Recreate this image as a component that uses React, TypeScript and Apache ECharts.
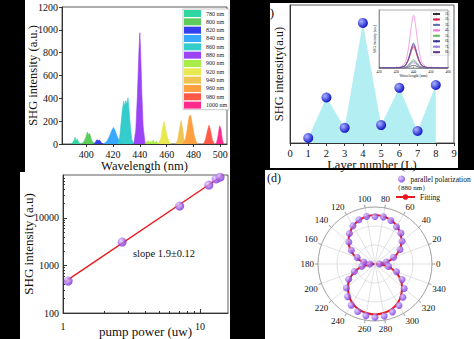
import React, { useEffect, useRef } from "react";
import * as echarts from "echarts";

const FONT = "'Liberation Serif', 'Times New Roman', serif";

// ---------- Panel (a): SHG spectra for different pump wavelengths ----------
const aNames = ["780 nm", "800 nm", "820 nm", "840 nm", "860 nm", "880 nm", "900 nm", "920 nm", "940 nm", "960 nm", "980 nm", "1000 nm"];
const aColors = ["#2fd6a0", "#5ccc5c", "#3440ee", "#36a8ff", "#35cccc", "#9a44f5", "#a8ec48", "#e8e850", "#f0c450", "#ffa040", "#ff5a48", "#ff2a8c"];
const s780 = [[388.5, 0], [390, 12], [391, 30], [391.8, 58], [392.5, 25], [393.3, 45], [394.5, 10], [396, 0]];
const s800 = [[396.5, 0], [398.5, 25], [399.8, 60], [400.8, 105], [401.8, 80], [402.6, 95], [404, 35], [406, 0]];
const s820 = [[405.5, 0], [407, 18], [408, 38], [409, 30], [410, 35], [411.5, 8], [413, 0]];
const s840 = [[413, 0], [415.5, 25], [417.5, 70], [419, 115], [420.3, 145], [421.5, 120], [423, 70], [425, 20], [427, 0]];
const s860 = [[423.5, 0], [425, 60], [426, 180], [427, 300], [428, 375], [428.7, 330], [429.5, 380], [430.3, 350], [431.2, 405], [432, 300], [433, 150], [434, 40], [435.5, 0]];
const s880 = [[435.5, 0], [437, 120], [438.2, 420], [439.3, 800], [440, 975], [440.6, 820], [441.5, 450], [442.5, 150], [444, 0]];
const s900 = [[443.5, 0], [445, 15], [446, 28], [447, 12], [448, 25], [449, 8], [450, 38], [451, 10], [452.5, 22], [454, 0]];
const s920 = [[453.5, 0], [455.5, 40], [456.8, 130], [458, 200], [459, 150], [460.3, 70], [462, 15], [463.5, 0]];
const s940 = [[467, 0], [468.5, 50], [469.8, 150], [470.8, 205], [471.8, 140], [473, 40], [474.5, 0]];
const s960 = [[472, 0], [474, 40], [475.5, 140], [476.8, 240], [477.8, 255], [479, 180], [480.5, 80], [482, 20], [483.5, 0]];
const s980 = [[487.5, 0], [489, 40], [490.5, 120], [491.5, 165], [492.5, 130], [494, 40], [495.5, 0]];
const s1000 = [[497, 0], [498.2, 60], [499.5, 160], [500.5, 130], [501.5, 40], [502.5, 0]];
const aSpectra = [s780, s800, s820, s840, s860, s880, s900, s920, s940, s960, s980, s1000];
const aTicks = [400, 420, 440, 460, 480, 500];

// ---------- Panel (b): SHG vs layer number ----------
const layers = [1, 2, 3, 4, 5, 6, 7, 8];
const layerShg = [3.6, 33, 11, 87, 13, 40, 8.7, 42];
// inset
const insetNames = ["1L", "2L", "3L", "4L", "5L", "6L", "7L", "8L"];
const insetColors = ["#333333", "#e0204a", "#6670b0", "#f27ad6", "#66bb66", "#3a3a9c", "#9a80e0", "#6a3a8a"];
const insetWl = [420, 430, 434, 436, 438, 439, 440, 441, 442, 444, 446, 450, 460];
const in1 = [0, 0, 0.003, 0.01, 0.03, 0.043, 0.05, 0.043, 0.03, 0.01, 0.003, 0, 0];
const in2 = [0, 0.004, 0.024, 0.08, 0.24, 0.34, 0.4, 0.34, 0.24, 0.08, 0.024, 0.004, 0];
const in3 = [0, 0.001, 0.008, 0.026, 0.078, 0.11, 0.13, 0.11, 0.078, 0.026, 0.008, 0.001, 0];
const in4 = [0, 0.01, 0.06, 0.2, 0.6, 0.85, 1.0, 0.85, 0.6, 0.2, 0.06, 0.01, 0];
const in5 = [0, 0.002, 0.01, 0.032, 0.096, 0.136, 0.16, 0.136, 0.096, 0.032, 0.01, 0.002, 0];
const in6 = [0, 0.005, 0.028, 0.094, 0.28, 0.4, 0.47, 0.4, 0.28, 0.094, 0.028, 0.005, 0];
const in7 = [0, 0.001, 0.006, 0.02, 0.06, 0.085, 0.1, 0.085, 0.06, 0.02, 0.006, 0.001, 0];
const in8 = [0, 0.004, 0.026, 0.088, 0.264, 0.374, 0.44, 0.374, 0.264, 0.088, 0.026, 0.004, 0];
const insetCurves = [in1, in2, in3, in4, in5, in6, in7, in8];

// ---------- Panel (c): power dependence ----------
const pumpPower = [1.09, 2.7, 7.1, 11.6, 13.1, 14.0];
const pumpShg = [470, 3100, 17800, 49000, 66000, 72000];
const fitPower = [1.03, 14.7];
const fitShg = [450, 79000];
const cMinorX = [2, 3, 4, 5, 6, 7, 8, 9];
const cMinorY = [200, 300, 400, 500, 600, 700, 800, 900, 2000, 3000, 4000, 5000, 6000, 7000, 8000, 9000, 20000, 30000, 40000, 50000, 60000, 70000];

// ---------- Panel (d): polarization ----------
const polAngles = [0, 10, 20, 30, 40, 50, 60, 70, 80, 90, 100, 110, 120, 130, 140, 150, 160, 170, 180, 190, 200, 210, 220, 230, 240, 250, 260, 270, 280, 290, 300, 310, 320, 330, 340, 350];
const polData = [0.12, 0.3, 0.52, 0.76, 0.93, 1.06, 1.13, 1.22, 1.26, 1.25, 1.27, 1.24, 1.16, 1.05, 0.9, 0.72, 0.5, 0.3, 0.14, 0.35, 0.58, 0.8, 0.98, 1.12, 1.25, 1.33, 1.38, 1.4, 1.39, 1.34, 1.26, 1.14, 1.0, 0.82, 0.6, 0.36];
const fitAngles = [0, 10, 20, 30, 40, 50, 60, 70, 80, 90, 100, 110, 120, 130, 140, 150, 160, 170, 180, 190, 200, 210, 220, 230, 240, 250, 260, 270, 280, 290, 300, 310, 320, 330, 340, 350, 360];
const fitR = [0.03, 0.32, 0.55, 0.74, 0.91, 1.04, 1.15, 1.23, 1.27, 1.29, 1.27, 1.23, 1.15, 1.04, 0.91, 0.74, 0.55, 0.32, 0.03, 0.33, 0.56, 0.76, 0.93, 1.07, 1.19, 1.27, 1.31, 1.33, 1.31, 1.27, 1.19, 1.07, 0.93, 0.76, 0.56, 0.33, 0.03];

function sphere(light: string, dark: string) {
  return new echarts.graphic.RadialGradient(0.35, 0.35, 0.75, [
    { offset: 0, color: light },
    { offset: 1, color: dark },
  ]);
}

const AX = { show: true, lineStyle: { color: "#333", width: 1 } };
const TXT = { fontFamily: FONT, color: "#111" };
const plain = (v: number) => String(Math.round(v));

export default function App() {
  const ref = useRef<HTMLDivElement>(null);
  useEffect(() => {
    if (!ref.current) return;
    const chart = echarts.init(ref.current, null, { renderer: "svg" });
    const gridBox = { show: true, borderColor: "#333", borderWidth: 0.8, backgroundColor: "transparent" };

    const series: any[] = [];
    aSpectra.forEach((s, i) => {
      series.push({
        type: "line", name: aNames[i], xAxisIndex: 0, yAxisIndex: 0, data: s, symbol: "none",
        lineStyle: { color: aColors[i], width: 0.6 }, itemStyle: { color: aColors[i] },
        areaStyle: { color: aColors[i], opacity: 1 }, silent: true,
      });
    });
    series.push({
      type: "line", name: "layers", xAxisIndex: 1, yAxisIndex: 1,
      data: layers.map((l, i) => [l, layerShg[i]]), symbol: "circle", symbolSize: 10,
      itemStyle: { color: sphere("#a8b4ff", "#0000c0") }, lineStyle: { width: 0 },
      areaStyle: { color: "#b2eef2", opacity: 1 }, z: 3,
    });
    insetCurves.forEach((c, i) => {
      series.push({
        type: "line", name: insetNames[i], xAxisIndex: 2, yAxisIndex: 2,
        data: insetWl.map((w, j) => [w, c[j]]), symbol: "none", smooth: true,
        lineStyle: { color: insetColors[i], width: 0.7 }, itemStyle: { color: insetColors[i] }, z: 5,
      });
    });
    series.push({
      type: "line", name: "fit", xAxisIndex: 3, yAxisIndex: 3,
      data: fitPower.map((p, i) => [p, fitShg[i]]), symbol: "none",
      lineStyle: { color: "#e8191f", width: 1.4 },
    });
    series.push({
      type: "scatter", name: "power", xAxisIndex: 3, yAxisIndex: 3,
      data: pumpPower.map((p, i) => [p, pumpShg[i]]), symbolSize: 9,
      itemStyle: { color: sphere("#e6d0ff", "#6a10d8") }, z: 4,
    });
    series.push({
      type: "line", name: "Fitting", coordinateSystem: "polar",
      data: fitAngles.map((a, i) => [fitR[i], a]), smooth: 0.35, symbol: "none",
      lineStyle: { color: "#e8191f", width: 2 }, itemStyle: { color: "#e8191f" },
    });
    series.push({
      type: "scatter", name: "parallel polarization", coordinateSystem: "polar",
      data: polAngles.map((a, i) => [polData[i], a]), symbolSize: 7,
      itemStyle: { color: sphere("#d8c4ff", "#6a1ee0") }, z: 4,
    });

    const option: any = {
      animation: false,
      backgroundColor: "#000",
      textStyle: { fontFamily: FONT },
      graphic: {
        elements: [
          { type: "rect", z: -10, shape: { x: 25, y: 0, width: 205, height: 172 }, style: { fill: "#fff" } },
          { type: "rect", z: -10, shape: { x: 20, y: 172, width: 210, height: 167 }, style: { fill: "#fff" } },
          { type: "rect", z: -10, shape: { x: 270, y: 3, width: 188, height: 165 }, style: { fill: "#fff" } },
          { type: "rect", z: -10, shape: { x: 265, y: 170, width: 209, height: 169 }, style: { fill: "#fff" } },
          { type: "text", z: 50, x: 274, y: 12, style: { text: "(b)", font: `13px ${FONT}`, fill: "#111", align: "right", verticalAlign: "middle" } },
          { type: "rect", z: 60, shape: { x: 232, y: 0, width: 38, height: 30 }, style: { fill: "#000" } },
          { type: "text", z: 50, x: 133, y: 253, style: { text: "slope 1.9±0.12", font: `10.5px ${FONT}`, fill: "#111", verticalAlign: "middle" } },
          { type: "text", z: 50, x: 267, y: 178, style: { text: "(d)", font: `12px ${FONT}`, fill: "#111", verticalAlign: "middle" } },
          { type: "text", z: 50, x: 394, y: 188, style: { text: "（880 nm）", font: `7px ${FONT}`, fill: "#111", verticalAlign: "middle" } },
        ],
      },
      legend: [
        {
          data: aNames, orient: "vertical", left: 183, top: 9, itemWidth: 17, itemHeight: 7, itemGap: 1.33,
          icon: "rect", padding: [1, 2, 1, 1], borderColor: "#aaa", borderWidth: 0.6, backgroundColor: "#fff",
          textStyle: { fontSize: 6, lineHeight: 7, fontFamily: FONT, color: "#222" }, selectedMode: false,
        },
        {
          data: insetNames, orient: "vertical", left: 431, top: 11, itemWidth: 7, itemHeight: 3, itemGap: 1.45,
          padding: 1, borderColor: "#999", borderWidth: 0.3,
          textStyle: { fontSize: 3.5, lineHeight: 3.3, fontFamily: FONT, color: "#222" }, selectedMode: false,
        },
        {
          data: ["parallel polarization"], left: 398, top: 175, itemWidth: 8, itemHeight: 7, icon: "circle",
          padding: 0, textStyle: { fontSize: 7.5, fontFamily: FONT, color: "#111" }, selectedMode: false,
        },
        {
          data: ["Fitting"], left: 395, top: 193, itemWidth: 19, itemHeight: 7,
          padding: 0, textStyle: { fontSize: 7.5, fontFamily: FONT, color: "#111" }, selectedMode: false,
        },
      ],
      grid: [
        { left: 62, top: 7, width: 165, height: 137, ...gridBox },
        { left: 290, top: 5, width: 164, height: 138, ...gridBox },
        { left: 379, top: 10, width: 69, height: 58, show: true, borderColor: "#555", borderWidth: 0.5, backgroundColor: "#fff" },
        { left: 63, top: 175, width: 165, height: 138, ...gridBox },
      ],
      xAxis: [
        {
          gridIndex: 0, type: "value", min: 382, max: 505, axisLine: AX,
          axisTick: { show: true, length: 3, customValues: aTicks, lineStyle: { color: "#333" } },
          axisLabel: { customValues: aTicks, fontSize: 10, margin: 5, ...TXT },
          splitLine: { show: false },
          name: "Wavelength (nm)", nameLocation: "middle", nameGap: 15, nameMoveOverlap: false,
          nameTextStyle: { fontSize: 12.5, ...TXT },
        },
        {
          gridIndex: 1, type: "value", min: 0, max: 9, interval: 1, axisLine: AX,
          axisTick: { show: true, length: 3, lineStyle: { color: "#333" } },
          axisLabel: { fontSize: 10.5, margin: 5, ...TXT }, splitLine: { show: false },
          name: "Layer number (L)", nameLocation: "middle", nameGap: 15.5, nameMoveOverlap: false,
          nameTextStyle: { fontSize: 12.5, ...TXT },
        },
        {
          gridIndex: 2, type: "value", min: 420, max: 460, interval: 10,
          axisLine: { show: true, lineStyle: { color: "#555", width: 0.5 } },
          axisTick: { show: true, inside: true, length: 1.5, lineStyle: { color: "#555", width: 0.5 } },
          axisLabel: { fontSize: 3.5, margin: 1.5, ...TXT }, splitLine: { show: false },
          name: "Wavelength (nm)", nameLocation: "middle", nameGap: 5, nameMoveOverlap: false,
          nameTextStyle: { fontSize: 4, ...TXT },
        },
        {
          gridIndex: 3, type: "log", logBase: 10, min: 1, max: 16, axisLine: AX,
          axisTick: { show: true, inside: true, length: 4, customValues: [1, 10], lineStyle: { color: "#333" } },
          axisLabel: { customValues: [1, 10], fontSize: 10, margin: 8, ...TXT, formatter: plain },
          splitLine: { show: false },
          name: "pump power (uw)", nameLocation: "middle", nameGap: 12, nameMoveOverlap: false,
          nameTextStyle: { fontSize: 13, ...TXT },
        },
        {
          gridIndex: 3, type: "log", logBase: 10, min: 1, max: 16, position: "bottom",
          axisLine: { show: false }, axisLabel: { show: false }, splitLine: { show: false },
          axisTick: { show: true, inside: true, length: 2, customValues: cMinorX, lineStyle: { color: "#333" } },
        },
      ],
      yAxis: [
        {
          gridIndex: 0, type: "value", min: 0, max: 1200, interval: 200, axisLine: AX,
          axisTick: { show: true, length: 3, lineStyle: { color: "#333" } },
          axisLabel: { fontSize: 10, margin: 4, ...TXT, formatter: plain }, splitLine: { show: false },
          name: "SHG intensity (a.u.)", nameLocation: "middle", nameGap: 23, nameMoveOverlap: false,
          nameTextStyle: { fontSize: 12.5, ...TXT },
        },
        {
          gridIndex: 1, type: "value", min: 0, max: 100, axisLine: AX,
          axisTick: { show: false }, axisLabel: { show: false }, splitLine: { show: false },
          name: "SHG intensity(a.u)", nameLocation: "middle", nameGap: 5, nameMoveOverlap: false,
          nameTextStyle: { fontSize: 12.5, ...TXT },
        },
        {
          gridIndex: 2, type: "value", min: 0, max: 1.1,
          axisLine: { show: true, lineStyle: { color: "#555", width: 0.5 } },
          axisTick: { show: false }, axisLabel: { show: false }, splitLine: { show: false },
          name: "SHG intensity (a.u.)", nameLocation: "middle", nameGap: 2, nameMoveOverlap: false,
          nameTextStyle: { fontSize: 3.5, ...TXT },
        },
        {
          gridIndex: 3, type: "log", logBase: 10, min: 100, max: 80000, axisLine: AX,
          axisTick: { show: true, inside: true, length: 4, customValues: [100, 1000, 10000], lineStyle: { color: "#333" } },
          axisLabel: { customValues: [100, 1000, 10000], fontSize: 10, margin: 4, ...TXT, formatter: plain },
          splitLine: { show: false },
          name: "SHG intensity (a.u)", nameLocation: "middle", nameGap: 28, nameMoveOverlap: false,
          nameTextStyle: { fontSize: 13, ...TXT },
        },
        {
          gridIndex: 3, type: "log", logBase: 10, min: 100, max: 80000, position: "left",
          axisLine: { show: false }, axisLabel: { show: false }, splitLine: { show: false },
          axisTick: { show: true, inside: true, length: 2, customValues: cMinorY, lineStyle: { color: "#333" } },
        },
      ],
      polar: { center: [375, 264], radius: 57 },
      angleAxis: {
        type: "value", min: 0, max: 360, interval: 20, startAngle: 0, clockwise: false,
        axisLine: { show: true, lineStyle: { color: "#999", width: 0.8 } },
        axisTick: { show: true, length: 3, lineStyle: { color: "#999" } },
        axisLabel: { margin: 4, fontSize: 9, ...TXT, formatter: (v: number) => (v === 360 ? "" : String(v)) },
        splitLine: { show: true, lineStyle: { color: "#ccc", width: 0.6 } },
      },
      radiusAxis: {
        type: "value", min: 0, max: 1.5, interval: 0.5,
        axisLine: { show: false }, axisTick: { show: false }, axisLabel: { show: false },
        splitLine: { show: true, lineStyle: { color: "#ccc", width: 0.6 } },
      },
      series,
    };
    chart.setOption(option);
    return () => chart.dispose();
  }, []);
  return <div ref={ref} style={{ position: "fixed", left: 0, top: 0, width: 474, height: 339 }} />;
}
